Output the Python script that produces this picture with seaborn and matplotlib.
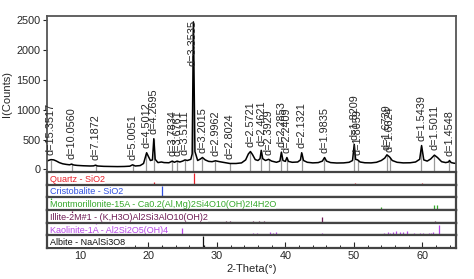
import pandas as pd
import seaborn as sns
import matplotlib.pyplot as plt

# measured pattern (2-theta in degrees, intensity in counts)
two_theta = [5.0, 5.4, 5.8, 6.2, 6.6, 7.0, 7.5, 8.0, 8.5, 8.8, 9.1, 9.6, 10.5, 11.5, 12.0, 12.3, 12.6,
             13.5, 14.5, 15.5, 16.5, 17.3, 17.7, 18.1, 18.8, 19.3, 19.5, 19.75, 20.0, 20.3, 20.6, 20.8,
             21.0, 21.4, 21.9, 22.3, 23.0, 23.5, 23.8, 24.2, 24.6, 25.0, 25.35, 25.7, 26.2, 26.4, 26.58,
             26.8, 27.2, 27.6, 27.9, 28.3, 28.8, 29.3, 29.8, 30.4, 31.0, 31.9, 32.8, 33.6, 34.2, 34.6,
             34.9, 35.2, 35.6, 36.0, 36.3, 36.48, 36.7, 37.1, 37.55, 38.0, 38.7, 39.2, 39.42, 39.65,
             40.0, 40.22, 40.45, 41.0, 41.8, 42.2, 42.38, 42.65, 43.2, 44.0, 44.8, 45.4, 45.72, 46.0,
             46.6, 47.5, 48.5, 49.3, 49.8, 50.05, 50.25, 50.55, 50.9, 51.6, 52.5, 53.3, 54.0, 54.5,
             54.82, 55.2, 55.6, 56.3, 57.2, 58.2, 59.0, 59.6, 59.88, 60.2, 60.7, 61.2, 61.75, 62.2,
             62.8, 63.4, 63.8, 63.95, 64.2, 64.6, 65.0]
counts = [130, 150, 165, 160, 140, 115, 95, 85, 78, 90, 75, 68, 62, 58, 60, 72, 58,
          52, 50, 48, 50, 55, 78, 58, 65, 100, 180, 280, 220, 150, 160, 515,
          170, 115, 125, 115, 112, 140, 120, 140, 125, 140, 160, 150, 170, 260, 2470,
          300, 150, 175, 200, 160, 135, 130, 145, 130, 118, 100, 100, 110, 160, 260,
          300, 250, 165, 150, 180, 320, 180, 150, 170, 140, 120, 140, 290, 150,
          135, 200, 135, 120, 125, 160, 280, 150, 120, 110, 115, 140, 200, 140,
          115, 108, 110, 120, 150, 420, 170, 160, 125, 112, 110, 120, 150, 190,
          245, 210, 150, 120, 110, 112, 125, 170, 400, 160, 140, 175, 240, 200,
          130, 115, 125, 150, 115, 105, 100]

# labelled peaks
peak_pos = [5.75, 8.79, 12.31, 17.71, 19.71, 20.79, 23.50, 24.19, 25.35, 26.56, 27.85, 29.80, 31.91,
            34.85, 36.46, 37.56, 39.40, 40.21, 42.36, 45.70, 50.05, 50.55, 54.80, 55.21, 59.86,
            61.75, 63.94]
peak_d = ["15.3517", "10.0560", "7.1872", "5.0051", "4.5012", "4.2695", "3.7834", "3.6761", "3.5111",
          "3.3535", "3.2015", "2.9962", "2.8024", "2.5721", "2.4621", "2.3929", "2.2853", "2.2409",
          "2.1321", "1.9835", "1.8209", "1.8059", "1.6739", "1.6624", "1.5439", "1.5011", "1.4548"]
peak_top = [165, 90, 72, 78, 275, 515, 140, 140, 160, 2470, 200, 145, 100,
            300, 320, 170, 290, 200, 280, 200, 420, 160, 245, 210, 400,
            240, 150]

# reference phases (stick patterns, relative intensity)
phase_labels = ["Quartz - SiO2", "Cristobalite - SiO2",
                "Montmorillonite-15A - Ca0.2(Al,Mg)2Si4O10(OH)2!4H2O",
                "Illite-2M#1 - (K,H3O)Al2Si3AlO10(OH)2",
                "Kaolinite-1A - Al2Si2O5(OH)4", "Albite - NaAlSi3O8"]
phase_colors = ["#e8202a", "#3050e0", "#35a82a", "#6e1c55", "#b848e8", "#111111"]

quartz_pos = [20.86, 26.64, 36.54, 39.47, 40.29, 42.45, 45.79, 50.14, 54.87, 55.33, 59.96, 64.0]
quartz_int = [0.2, 1.0, 0.08, 0.08, 0.05, 0.06, 0.04, 0.12, 0.05, 0.03, 0.09, 0.03]
cristo_pos = [21.98, 28.44, 31.46, 36.08, 42.68, 44.77, 46.9, 48.6, 57.0, 60.4, 62.0]
cristo_int = [1.0, 0.05, 0.08, 0.12, 0.03, 0.04, 0.03, 0.04, 0.03, 0.03, 0.03]
montm_pos = [5.8, 19.8, 35.0, 48.5, 53.9, 61.7, 62.1]
montm_int = [1.0, 0.3, 0.2, 0.1, 0.25, 0.4, 0.4]
illite_pos = [8.85, 17.8, 19.9, 26.8, 31.4, 31.95, 35.3, 36.1, 36.9, 40.4, 45.4, 61.8]
illite_int = [1.0, 0.3, 0.3, 0.5, 0.15, 0.15, 0.12, 0.1, 0.1, 0.08, 0.45, 0.15]
kaol_pos = [12.36, 19.86, 20.36, 21.24, 24.9, 26.5, 28.0, 29.2, 31.4, 32.5, 35.0, 35.3, 35.8, 37.7,
            38.2, 38.7, 39.7, 40.3, 41.0, 41.6, 42.1, 45.3, 45.8, 46.3, 47.1, 47.6, 48.3, 48.9,
            49.5, 49.9, 53.8, 54.4, 55.0, 55.3, 55.7, 56.2, 56.7, 57.2, 57.7, 58.7, 59.6, 60.1,
            60.9, 61.2, 61.5, 62.4]
kaol_int = [1.0, 0.3, 0.3, 0.3, 0.6, 0.12, 0.1, 0.1, 0.08, 0.1, 0.15, 0.2, 0.2, 0.25,
            0.2, 0.25, 0.12, 0.1, 0.12, 0.1, 0.1, 0.2, 0.15, 0.15, 0.12, 0.1, 0.15, 0.1,
            0.12, 0.1, 0.15, 0.2, 0.25, 0.2, 0.3, 0.35, 0.25, 0.3, 0.35, 0.2, 0.2, 0.2,
            0.2, 0.2, 0.25, 0.85]
albite_pos = [13.87, 22.04, 23.56, 24.2, 25.5, 26.4, 27.94, 28.1, 30.1, 30.4, 31.5, 33.9, 35.0, 35.4,
              36.5, 37.8, 38.6, 41.7, 42.4, 42.6, 44.3, 45.1, 46.0, 47.2, 48.2, 49.5, 50.4, 51.2]
albite_int = [0.2, 0.15, 0.12, 0.08, 0.08, 0.1, 1.0, 0.3, 0.12, 0.1, 0.08, 0.08, 0.1, 0.08,
              0.08, 0.1, 0.06, 0.1, 0.12, 0.08, 0.1, 0.08, 0.06, 0.06, 0.08, 0.06, 0.1, 0.06]

phase_pos = [quartz_pos, cristo_pos, montm_pos, illite_pos, kaol_pos, albite_pos]
phase_int = [quartz_int, cristo_int, montm_int, illite_int, kaol_int, albite_int]

sns.set_theme(style="white")
plt.rcParams['font.family'] = ['Liberation Sans', 'DejaVu Sans']

df = pd.DataFrame({'two_theta': two_theta, 'counts': counts})

fig = plt.figure(figsize=(4.74, 2.79), dpi=100)
gs = fig.add_gridspec(7, 1, height_ratios=[156] + [12.7] * 6, hspace=0,
                      left=0.099, right=0.962, top=0.943, bottom=0.111)
ax = fig.add_subplot(gs[0])
xmin, xmax = 5.2, 64.9
ymin, ymax = -40, 2570

# grey marker lines under the labelled peaks
ax.vlines(peak_pos, ymin, peak_top, color='#9a9a9a', lw=0.9, zorder=1)
sns.lineplot(data=df, x='two_theta', y='counts', color='black', lw=1.1, ax=ax, zorder=2,
             estimator=None, sort=False)

for pos, d, top in zip(peak_pos, peak_d, peak_top):
    if top > 2000:
        ax.text(pos - 0.15, ymax - 60, 'd=' + d, rotation=90, ha='center', va='top', fontsize=7.8)
    else:
        ax.text(pos, top + 80, 'd=' + d, rotation=90, ha='center', va='bottom', fontsize=7.8)

ax.set_xlim(xmin, xmax)
ax.set_ylim(ymin, ymax)
ax.set_yticks([0, 500, 1000, 1500, 2000, 2500])
ax.set_xticks([])
ax.set_xlabel('')
ax.set_ylabel('I(Counts)', fontsize=8, labelpad=3)
ax.tick_params(axis='y', direction='out', length=3, width=0.8, labelsize=7.8, pad=1.5, left=True)
for s in ax.spines.values():
    s.set_color('#555555')
    s.set_linewidth(1.3)

for i in range(6):
    sax = fig.add_subplot(gs[i + 1], sharex=ax)
    sax.vlines(phase_pos[i], 0, [v * 0.92 for v in phase_int[i]], color=phase_colors[i], lw=0.9)
    sax.text(5.6, 0.42, phase_labels[i], color=phase_colors[i], fontsize=6.5, va='center', ha='left',
             bbox=dict(facecolor='white', edgecolor='none', pad=0.2), zorder=5)
    sax.set_ylim(0, 1.0)
    sax.set_yticks([])
    sax.set_ylabel('')
    for s in sax.spines.values():
        s.set_color('#444444')
        s.set_linewidth(1.6)
    if i < 5:
        sax.tick_params(axis='x', bottom=False, labelbottom=False)
    else:
        sax.set_xticks([10, 20, 30, 40, 50, 60])
        sax.set_xticks(range(6, 65, 2), minor=True)
        sax.tick_params(axis='x', which='major', direction='in', length=4, width=0.8,
                        labelsize=7.8, pad=2, bottom=True)
        sax.tick_params(axis='x', which='minor', direction='in', length=2, width=0.7, bottom=True)
        sax.set_xlabel('2-Theta(°)', fontsize=8, labelpad=2)

sax.set_xlim(xmin, xmax)
fig.savefig('out.png', dpi=100)
